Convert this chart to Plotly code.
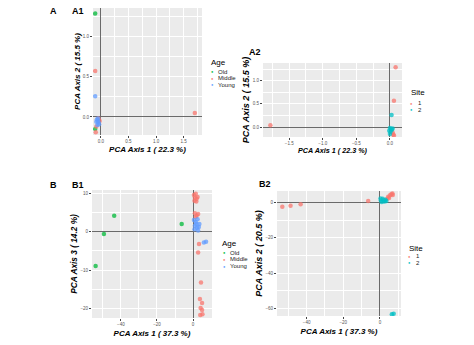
import plotly.graph_objects as go

# ---------------- DATA ----------------
# Panel A1 (PCA axis 1 vs 2, coloured by Age)
a1_old_x = [-0.10, -0.10]
a1_old_y = [1.29, -0.15]
a1_mid_x = [-0.10, 1.70, -0.04, -0.02, -0.08, -0.09]
a1_mid_y = [0.575, 0.05, -0.02, -0.05, -0.12, -0.19]
a1_yng_x = [-0.10, -0.07, -0.05, -0.04, -0.03, -0.06, -0.08, -0.05]
a1_yng_y = [0.26, -0.03, -0.05, -0.07, -0.09, -0.10, -0.06, -0.02]

# Panel A2 (PCA axis 1 vs 2, coloured by Site)
a2_s1_x = [0.085, 0.06, -1.78, 0.04, 0.05, 0.06]
a2_s1_y = [1.29, 0.565, 0.04, -0.12, -0.16, -0.18]
a2_s2_x = [0.025, 0.00, 0.02, 0.03, -0.01, 0.01, 0.04, 0.00]
a2_s2_y = [0.26, -0.02, -0.04, -0.06, -0.08, -0.10, -0.03, -0.15]

# Panel B1 (PCA axis 1 vs 3, coloured by Age)
b1_old_x = [-54, -49.4, -43.7, -6.3]
b1_old_y = [-8.9, -0.6, 4.1, 2.0]
b1_mid_x = [0.5, 1.0, 1.5, 2.0, 0.8, 1.8, 2.5, 1.0, 2.0, 2.8, 1.5,
            3.3, 2.8, 4.4, 3.8, 5.0, 4.2, 5.0, 4.0, 5.2]
b1_mid_y = [9.5, 8.8, 9.8, 8.5, 8.0, 7.8, 9.0, 4.8, 4.2, 4.6, 3.8,
            -3.2, -5.4, -13.2, -17.5, -18.5, -19.8, -20.3, -21.6, -21.4]
b1_yng_x = [0.5, 1.5, 2.5, 3.5, 1.0, 2.2, 3.2, 0.8, 2.8, 1.8, 7.2, 6.0]
b1_yng_y = [3.0, 2.5, 3.2, 2.0, 1.5, 1.0, 1.2, 0.6, 0.3, 2.0, -2.6, -2.8]

# Panel B2 (PCA axis 1 vs 2, coloured by Site)
b2_s1_x = [-53.3, -48.8, -43.3, -6.4, 4.5, 5.5, 6.2, 5.0, 6.8, 4.0, 7.0]
b2_s1_y = [-2.5, -1.9, -1.1, 0.7, 3.2, 4.0, 4.5, 2.5, 5.0, 2.0, 4.2]
b2_s2_x = [0.5, 1.5, 2.5, 1.0, 3.0, 2.0, 0.3, 3.5, 6.5, 7.5]
b2_s2_y = [1.0, 2.0, 0.5, 0.2, 1.5, 1.2, 2.2, 0.8, -63.3, -63.0]

age_labels = ["Old", "Middle", "Young"]
site_labels = ["1", "2"]
age_colors = ["#00BA38", "#F8766D", "#619CFF"]
site_colors = ["#F8766D", "#00BFC4"]

x_title_a = "PCA Axis 1 ( 22.3 %)"
y_title_a = "PCA Axis 2 ( 15.5 %)"
x_title_b = "PCA Axis 1 ( 37.3 %)"
y_title_b1 = "PCA Axis 3 ( 14.2 %)"
y_title_b2 = "PCA Axis 2 ( 20.5 %)"

W, H = 474, 345
FONT = "Liberation Sans, Arial, sans-serif"

fig = go.Figure()


def add_pts(x, y, color, xa, ya, name):
    fig.add_trace(go.Scatter(
        x=x, y=y, mode="markers", name=name, showlegend=False,
        xaxis=xa, yaxis=ya,
        marker=dict(size=4.5, color=color, opacity=0.75,
                    line=dict(width=0)),
    ))


add_pts(a1_old_x, a1_old_y, age_colors[0], "x", "y", "Old")
add_pts(a1_mid_x, a1_mid_y, age_colors[1], "x", "y", "Middle")
add_pts(a1_yng_x, a1_yng_y, age_colors[2], "x", "y", "Young")
add_pts(a2_s1_x, a2_s1_y, site_colors[0], "x2", "y2", "1")
add_pts(a2_s2_x, a2_s2_y, site_colors[1], "x2", "y2", "2")
add_pts(b1_old_x, b1_old_y, age_colors[0], "x3", "y3", "Old")
add_pts(b1_mid_x, b1_mid_y, age_colors[1], "x3", "y3", "Middle")
add_pts(b1_yng_x, b1_yng_y, age_colors[2], "x3", "y3", "Young")
add_pts(b2_s1_x, b2_s1_y, site_colors[0], "x4", "y4", "1")
add_pts(b2_s2_x, b2_s2_y, site_colors[1], "x4", "y4", "2")


def px_dom_x(l, r):
    return [l / W, r / W]


def px_dom_y(t, b):
    return [1 - b / H, 1 - t / H]


def axis(domain, rng, dtick, anchor, title, tsize, standoff, tickfmt):
    return dict(
        domain=domain, range=rng, dtick=dtick, tick0=0, anchor=anchor,
        tickformat=tickfmt,
        showgrid=True, gridcolor="white", gridwidth=0.9,
        minor=dict(dtick=dtick / 2, tick0=0, showgrid=True,
                   gridcolor="white", gridwidth=0.4),
        zeroline=True, zerolinecolor="#6a6a6a", zerolinewidth=1,
        showline=False, ticks="outside", ticklen=2, tickwidth=0.5,
        tickcolor="#444444",
        tickfont=dict(size=4.5, color="#555555", family=FONT),
        title=dict(text=title, standoff=standoff,
                   font=dict(size=tsize, family=FONT, color="black",
                             weight="bold", style="italic")),
        fixedrange=True,
    )


layout = dict(
    width=W, height=H, margin=dict(l=0, r=0, t=0, b=0),
    paper_bgcolor="white", plot_bgcolor="#EBEBEB",
    showlegend=False,
    font=dict(family=FONT),
    xaxis=axis(px_dom_x(93, 202), [-0.14, 1.83], 0.5, "y", x_title_a, 8, 2, ".1f"),
    yaxis=axis(px_dom_y(8, 135), [-0.225, 1.36], 0.5, "x", y_title_a, 8, 1, ".1f"),
    xaxis2=axis(px_dom_x(263, 402), [-1.89, 0.18], 0.5, "y2", x_title_a, 7.2, 2, ".1f"),
    yaxis2=axis(px_dom_y(63, 137), [-0.215, 1.38], 0.5, "x2", y_title_a, 9, 1, ".1f"),
    xaxis3=axis(px_dom_x(92, 212), [-56, 10.5], 20, "y3", x_title_b, 8, 3, "d"),
    yaxis3=axis(px_dom_y(190, 318), [-22.4, 10.8], 10, "x3", y_title_b1, 8.3, 1, "d"),
    xaxis4=axis(px_dom_x(277, 401), [-56.2, 11.5], 20, "y4", x_title_b, 8, 3, "d"),
    yaxis4=axis(px_dom_y(191, 316), [-64.3, 6.4], 20, "x4", y_title_b2, 9, 1, "d"),
)

anns = []


def txt(x, y, s, size, bold=False, color="black", xanchor="left"):
    anns.append(dict(
        x=x / W, y=1 - y / H, xref="paper", yref="paper", text=s,
        showarrow=False, xanchor=xanchor, yanchor="middle",
        font=dict(size=size, family=FONT, color=color,
                  weight="bold" if bold else "normal"),
    ))


# panel labels
txt(53, 10.7, "A", 9, True, xanchor="center")
txt(78, 10.7, "A1", 9, True, xanchor="center")
txt(255, 51.7, "A2", 9, True, xanchor="center")
txt(53, 185, "B", 9, True, xanchor="center")
txt(78, 185, "B1", 9, True, xanchor="center")
txt(265, 184, "B2", 9, True, xanchor="center")


def legend(x_title, y_title, title, labels, colors, mx, tx, ys):
    txt(x_title, y_title, title, 8, False)
    for lab, col, yy in zip(labels, colors, ys):
        txt(mx, yy, "\u25CF", 4, False, color=col, xanchor="center")
        txt(tx, yy, lab, 6, False, color="#222222")


legend(209, 62.3, "Age", age_labels, age_colors, 212.3, 215.5, [71.7, 78.3, 84.6])
legend(408.5, 92.7, "Site", site_labels, site_colors, 411.3, 415.5, [103.3, 109.6])
legend(220, 243.3, "Age", age_labels, age_colors, 224, 227.5, [252.7, 259.3, 266])
legend(407, 248.3, "Site", site_labels, site_colors, 409.5, 413.5, [256, 262.7])

layout["annotations"] = anns
fig.update_layout(**layout)
fig.write_html("out.html")
